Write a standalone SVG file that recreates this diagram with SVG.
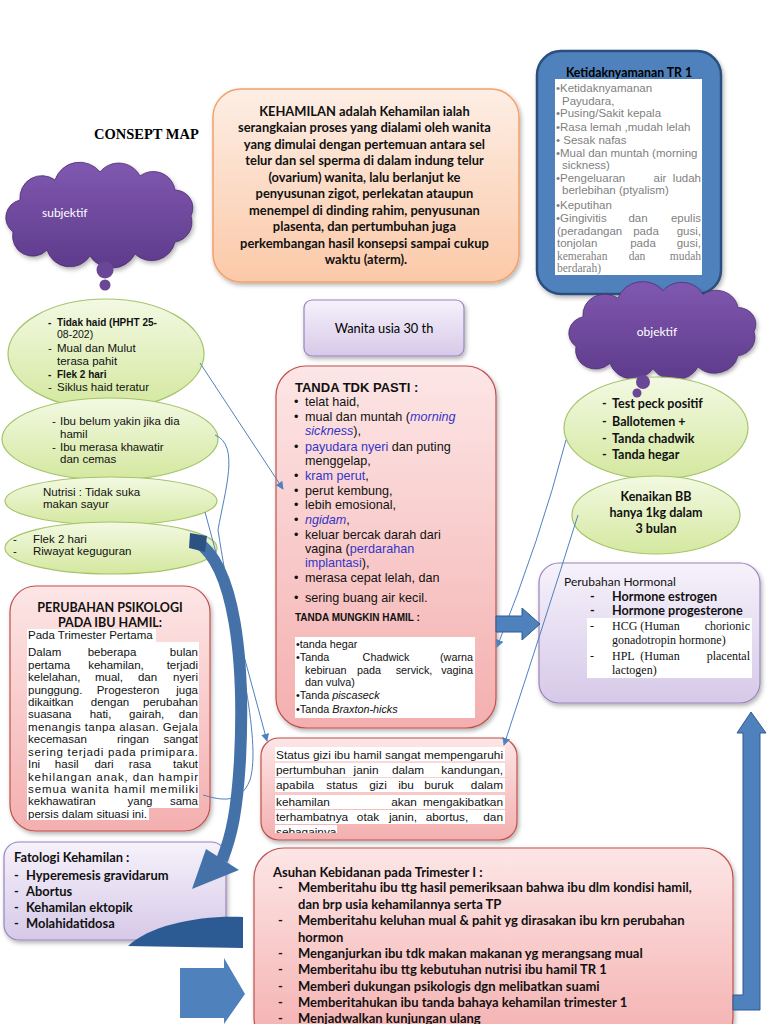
<svg xmlns="http://www.w3.org/2000/svg" width="768" height="1024" viewBox="0 0 768 1024">
<style>
.cal{font-family:Lato,"Open Sans",sans-serif;font-weight:bold}
.caln{font-family:Lato,"Open Sans",sans-serif}
.ar{font-family:"Liberation Sans",Arial,sans-serif}
.ser{font-family:"Liberation Serif","Times New Roman",serif}
.gr{fill:#7f7f7f}
.bl{fill:#3535c8}
.it{font-style:italic}
.con{fill:none;stroke:#4f81bd;stroke-width:1}
.barrow{fill:#4f81bd;stroke:#2f5a8f;stroke-width:1}
</style>
<defs>
<linearGradient id="gG" x1="0" y1="0" x2="0" y2="1"><stop offset="0" stop-color="#f3f9e3"/><stop offset="1" stop-color="#d4e89f"/></linearGradient>
<linearGradient id="gP" x1="0" y1="0" x2="0" y2="1"><stop offset="0" stop-color="#fde6e6"/><stop offset="1" stop-color="#f4afaf"/></linearGradient>
<linearGradient id="gO" x1="0" y1="0" x2="0" y2="1"><stop offset="0" stop-color="#fdeee5"/><stop offset="1" stop-color="#fbc9a8"/></linearGradient>
<linearGradient id="gL" x1="0" y1="0" x2="0" y2="1"><stop offset="0" stop-color="#f6f2fb"/><stop offset="1" stop-color="#d6c9e8"/></linearGradient>
<linearGradient id="gC" x1="0" y1="0" x2="0" y2="1"><stop offset="0" stop-color="#8058b0"/><stop offset="1" stop-color="#5e3b8b"/></linearGradient>
<filter id="sh" x="-10%" y="-10%" width="130%" height="130%"><feDropShadow dx="1.5" dy="2.5" stdDeviation="2" flood-color="#000" flood-opacity="0.3"/></filter>
<marker id="ah" viewBox="0 0 10 10" refX="9" refY="5" markerWidth="8" markerHeight="8" markerUnits="userSpaceOnUse" orient="auto"><path d="M0,0 L10,5 L0,10 z" fill="#4f81bd"/></marker>
<path id="cloud" d="M 15 32 A 22 22 0 0 1 50 12 A 26 26 0 0 1 95 4 A 24 24 0 0 1 135 8 A 22 22 0 0 1 170 22 A 18 18 0 0 1 186 48 A 20 20 0 0 1 170 74 A 24 24 0 0 1 130 86 A 26 26 0 0 1 85 88 A 24 24 0 0 1 42 82 A 20 20 0 0 1 8 64 A 18 18 0 0 1 15 32 Z"/>
<clipPath id="cGizi"><rect x="262" y="740" width="255" height="93"/></clipPath>
</defs>
<rect width="768" height="1024" fill="#ffffff"/>

<text class="ser" x="94" y="139" font-size="14.5" font-weight="bold" fill="#000">CONSEPT MAP</text>

<g id="subjektif">
<use href="#cloud" transform="translate(5,168)" fill="url(#gC)" stroke="#4b2d70" stroke-width="0.8" filter="url(#sh)"/>
<text class="caln" x="42" y="217" font-size="12" fill="#ffffff">subjektif</text>
<circle cx="105" cy="270" r="8.5" fill="#6a4696"/>
<circle cx="105" cy="285" r="5.5" fill="#6a4696"/>
</g>

<g id="kehamilan">
<rect x="213" y="89" width="306" height="193" rx="28" fill="url(#gO)" stroke="#f4a06a" stroke-width="1.5" filter="url(#sh)"/>
<text class="cal" font-size="12.9" text-anchor="middle" fill="#111">
<tspan x="366" y="116">KEHAMILAN adalah Kehamilan ialah</tspan>
<tspan x="366" y="132.4">serangkaian proses yang dialami oleh wanita</tspan>
<tspan x="366" y="148.9">yang dimulai dengan pertemuan antara sel</tspan>
<tspan x="366" y="165.3">telur dan sel sperma di dalam indung telur</tspan>
<tspan x="366" y="181.8">(ovarium) wanita, lalu berlanjut ke</tspan>
<tspan x="366" y="198.2">penyusunan zigot, perlekatan ataupun</tspan>
<tspan x="366" y="214.6">menempel di dinding rahim, penyusunan</tspan>
<tspan x="366" y="231.1">plasenta, dan pertumbuhan juga</tspan>
<tspan x="366" y="247.5">perkembangan hasil konsepsi sampai cukup</tspan>
<tspan x="366" y="264">waktu (aterm).</tspan>
</text>
</g>

<g id="ketidaknyamanan">
<rect x="537" y="51" width="184" height="243" rx="24" fill="#4f81bd" stroke="#2c4f7c" stroke-width="2.5" filter="url(#sh)"/>
<text class="cal" x="629" y="77" font-size="12.3" text-anchor="middle" fill="#000">Ketidaknyamanan TR 1</text>
<rect x="555" y="79" width="147" height="196" fill="#ffffff"/>
<g class="ar gr" font-size="11.5">
<text x="556" y="92">•Ketidaknyamanan</text>
<text x="562" y="105">Payudara,</text>
<text x="556" y="117">•Pusing/Sakit kepala</text>
<text x="556" y="131">•Rasa lemah ,mudah lelah</text>
<text x="556" y="144">•  Sesak nafas</text>
<text x="556" y="157">•Mual dan muntah (morning</text>
<text x="562" y="169">sickness)</text>
<text x="556" y="182">•Pengeluaran</text><text x="660" y="182" text-anchor="middle">air</text><text x="701" y="182" text-anchor="end">ludah</text>
<text x="562" y="194">berlebihan (ptyalism)</text>
<text x="556" y="209">•Keputihan</text>
<text x="556" y="222">•Gingivitis</text><text x="638" y="222" text-anchor="middle">dan</text><text x="701" y="222" text-anchor="end">epulis</text>
<text x="557" y="235">(peradangan</text><text x="646" y="235" text-anchor="middle">pada</text><text x="701" y="235" text-anchor="end">gusi,</text>
<text x="557" y="247">tonjolan</text><text x="643" y="247" text-anchor="middle">pada</text><text x="701" y="247" text-anchor="end">gusi,</text>
</g>
<g class="ser gr" font-size="11.5">
<text x="557" y="260">kemerahan</text><text x="637" y="260" text-anchor="middle">dan</text><text x="701" y="260" text-anchor="end">mudah</text>
<text x="557" y="272">berdarah)</text>
</g>
</g>

<g id="wanita">
<rect x="304" y="300" width="160" height="56" rx="8" fill="url(#gL)" stroke="#9a84bd" stroke-width="1.2" filter="url(#sh)"/>
<text class="caln" x="384" y="333" font-size="12.8" text-anchor="middle" fill="#000">Wanita usia 30 th</text>
</g>

<g id="ell1">
<ellipse cx="106" cy="354" rx="98" ry="55" fill="url(#gG)" stroke="#a5c46a" stroke-width="1.2"/>
<g class="ar" font-size="11.5" fill="#111">
<text x="48" y="325.5" font-size="10" font-weight="bold">-</text><text x="57" y="325.5" font-size="10" font-weight="bold">Tidak haid  (HPHT 25-</text>
<text x="57" y="338" font-size="10.5">08-202)</text>
<text x="48" y="352">-</text><text x="57" y="352">Mual dan Mulut</text>
<text x="57" y="365">terasa pahit</text>
<text x="48" y="378" font-size="10" font-weight="bold">-</text><text x="57" y="378" font-size="10" font-weight="bold">Flek 2 hari</text>
<text x="48" y="391">-</text><text x="57" y="391">Siklus haid teratur</text>
</g>
</g>

<g id="ell2">
<ellipse cx="110" cy="439" rx="108" ry="41" fill="url(#gG)" stroke="#a5c46a" stroke-width="1.2"/>
<g class="ar" font-size="11.5" fill="#111">
<text x="52" y="425">-</text><text x="60" y="425">Ibu belum yakin jika dia</text>
<text x="60" y="438">hamil</text>
<text x="52" y="451">-</text><text x="60" y="451">Ibu merasa khawatir</text>
<text x="60" y="463">dan cemas</text>
</g>
</g>

<g id="ell3">
<ellipse cx="111" cy="501" rx="106" ry="24" fill="url(#gG)" stroke="#a5c46a" stroke-width="1.2"/>
<g class="ar" font-size="11.5" fill="#111">
<text x="43" y="496">Nutrisi : Tidak suka</text>
<text x="43" y="508">makan sayur</text>
</g>
</g>

<g id="ell4">
<ellipse cx="111" cy="548" rx="106" ry="26" fill="url(#gG)" stroke="#a5c46a" stroke-width="1.2"/>
<g class="ar" font-size="11.5" fill="#111">
<text x="13" y="543">-</text><text x="33" y="543">Flek 2 hari</text>
<text x="13" y="555">-</text><text x="33" y="555">Riwayat keguguran</text>
</g>
</g>

<g id="objektif">
<use href="#cloud" transform="translate(568,287) scale(1,0.93)" fill="url(#gC)" stroke="#4b2d70" stroke-width="0.8" filter="url(#sh)"/>
<text class="caln" x="657" y="336" font-size="12" text-anchor="middle" fill="#ffffff">objektif</text>
</g>

<g id="ell5">
<ellipse cx="656" cy="428" rx="92" ry="51" fill="url(#gG)" stroke="#a5c46a" stroke-width="1.2"/>
<g class="cal" font-size="12.5" fill="#111">
<text x="602" y="408">-</text><text x="612" y="408">Test peck positif</text>
<text x="602" y="426">-</text><text x="612" y="426">Ballotemen +</text>
<text x="602" y="443">-</text><text x="612" y="443">Tanda chadwik</text>
<text x="602" y="459">-</text><text x="612" y="459">Tanda hegar</text>
</g>
</g>
<g id="bubbles-objektif">
<circle cx="643" cy="382" r="7" fill="#6a4696"/>
<circle cx="637" cy="393" r="4.5" fill="#6a4696"/>
</g>

<g id="ell6">
<ellipse cx="656" cy="515" rx="84" ry="39" fill="url(#gG)" stroke="#a5c46a" stroke-width="1.2"/>
<g class="cal" font-size="12.5" fill="#111" text-anchor="middle">
<text x="656" y="501">Kenaikan BB</text>
<text x="656" y="517">hanya 1kg dalam</text>
<text x="656" y="533">3 bulan</text>
</g>
</g>

<g id="tanda">
<rect x="276" y="366" width="220" height="362" rx="30" fill="url(#gP)" stroke="#c0504d" stroke-width="1.2" filter="url(#sh)"/>
<text class="ar" x="295" y="392" font-size="13" font-weight="bold" fill="#111">TANDA TDK PASTI :</text>
<g class="ar" font-size="12.6" fill="#111">
<text x="294" y="406">•</text><text x="305" y="406">telat haid,</text>
<text x="294" y="421">•</text><text x="305" y="421">mual dan muntah (<tspan class="bl it">morning</tspan></text>
<text x="305" y="435"><tspan class="bl it">sickness</tspan>),</text>
<text x="294" y="451">•</text><text x="305" y="451"><tspan class="bl">payudara nyeri</tspan> dan puting</text>
<text x="305" y="465">menggelap,</text>
<text x="294" y="480">•</text><text x="305" y="480"><tspan class="bl">kram perut</tspan>,</text>
<text x="294" y="495">•</text><text x="305" y="495">perut kembung,</text>
<text x="294" y="509">•</text><text x="305" y="509">lebih emosional,</text>
<text x="294" y="524">•</text><text x="305" y="524"><tspan class="bl it">ngidam</tspan>,</text>
<text x="294" y="539">•</text><text x="305" y="539">keluar bercak darah dari</text>
<text x="305" y="553">vagina (<tspan class="bl">perdarahan</tspan></text>
<text x="305" y="567"><tspan class="bl">implantasi</tspan>),</text>
<text x="294" y="582">•</text><text x="305" y="582">merasa cepat lelah, dan</text>
<text x="294" y="602">•</text><text x="305" y="602">sering buang air kecil.</text>
</g>
<text class="ar" x="295" y="621" font-size="10" font-weight="bold" fill="#111">TANDA MUNGKIN HAMIL :</text>
<rect x="295" y="637" width="180" height="81" fill="#ffffff"/>
<g class="ar" font-size="10.8" fill="#111">
<text x="296" y="648">•tanda hegar</text>
<text x="296" y="661">•Tanda</text><text x="386" y="661" text-anchor="middle">Chadwick</text><text x="473" y="661" text-anchor="end">(warna</text>
<text x="305" y="674">kebiruan</text><text x="369" y="674" text-anchor="middle">pada</text><text x="414" y="674" text-anchor="middle">servick,</text><text x="473" y="674" text-anchor="end">vagina</text>
<text x="305" y="686">dan vulva)</text>
<text x="296" y="699">•Tanda <tspan class="it">piscaseck</tspan></text>
<text x="296" y="713">•Tanda <tspan class="it">Braxton-hicks</tspan></text>
</g>
</g>

<g id="hormonal">
<rect x="539" y="563" width="221" height="140" rx="20" fill="url(#gL)" stroke="#9a84bd" stroke-width="1.2" filter="url(#sh)"/>
<text class="caln" x="564" y="586" font-size="12" fill="#111">Perubahan Hormonal</text>
<g class="cal" font-size="12.6" fill="#111">
<text x="590" y="601">-</text><text x="612" y="601">Hormone estrogen</text>
<text x="590" y="615">-</text><text x="612" y="615">Hormone progesterone</text>
</g>
<rect x="587" y="618" width="165" height="60" fill="#ffffff"/>
<g class="ser" font-size="12" fill="#111">
<text x="590" y="630">-</text><text x="612" y="630">HCG</text><text x="660" y="630" text-anchor="middle">(Human</text><text x="750" y="630" text-anchor="end">chorionic</text>
<text x="612" y="644">gonadotropin hormone)</text>
<text x="590" y="660">-</text><text x="612" y="660">HPL</text><text x="660" y="660" text-anchor="middle">(Human</text><text x="750" y="660" text-anchor="end">placental</text>
<text x="612" y="674">lactogen)</text>
</g>
</g>

<g id="psikologi">
<rect x="10" y="586" width="200" height="245" rx="26" fill="url(#gP)" stroke="#c0504d" stroke-width="1.2" filter="url(#sh)"/>
<g class="cal" font-size="12.5" fill="#111" text-anchor="middle">
<text x="110" y="611.5">PERUBAHAN PSIKOLOGI</text>
<text x="110" y="626.5">PADA IBU HAMIL:</text>
</g>
<rect x="27" y="629" width="129" height="13" fill="#ffffff"/>
<rect x="27" y="642" width="172" height="166" fill="#ffffff"/>
<rect x="27" y="808" width="122" height="12" fill="#ffffff"/>
<g class="ar" font-size="11.5" fill="#111">
<text x="28" y="639">Pada Trimester Pertama</text>
<text x="28" y="656">Dalam</text><text x="112" y="656" text-anchor="middle">beberapa</text><text x="198" y="656" text-anchor="end">bulan</text>
<text x="28" y="668.5">pertama</text><text x="116" y="668.5" text-anchor="middle">kehamilan,</text><text x="198" y="668.5" text-anchor="end">terjadi</text>
<text x="28" y="681">kelelahan,</text><text x="109" y="681" text-anchor="middle">mual,</text><text x="147.5" y="681" text-anchor="middle">dan</text><text x="198" y="681" text-anchor="end">nyeri</text>
<text x="28" y="693.5">punggung.</text><text x="128" y="693.5" text-anchor="middle">Progesteron</text><text x="198" y="693.5" text-anchor="end">juga</text>
<text x="28" y="706">dikaitkan</text><text x="110" y="706" text-anchor="middle">dengan</text><text x="198" y="706" text-anchor="end">perubahan</text>
<text x="28" y="718">suasana</text><text x="100.5" y="718" text-anchor="middle">hati,</text><text x="146.7" y="718" text-anchor="middle">gairah,</text><text x="198" y="718" text-anchor="end">dan</text>
<text x="28" y="730.5" textLength="170" lengthAdjust="spacing">menangis tanpa alasan. Gejala</text>
<text x="28" y="743">kecemasan</text><text x="133" y="743" text-anchor="middle">ringan</text><text x="198" y="743" text-anchor="end">sangat</text>
<text x="28" y="755.5" textLength="170" lengthAdjust="spacing">sering terjadi pada primipara.</text>
<text x="28" y="768">Ini</text><text x="66.7" y="768" text-anchor="middle">hasil</text><text x="104" y="768" text-anchor="middle">dari</text><text x="140" y="768" text-anchor="middle">rasa</text><text x="198" y="768" text-anchor="end">takut</text>
<text x="28" y="780.5" textLength="170" lengthAdjust="spacing">kehilangan anak, dan hampir</text>
<text x="28" y="793" textLength="170" lengthAdjust="spacing">semua wanita hamil  memiliki</text>
<text x="28" y="805">kekhawatiran</text><text x="140" y="805" text-anchor="middle">yang</text><text x="198" y="805" text-anchor="end">sama</text>
<text x="28" y="817.5">persis dalam situasi ini.</text>
</g>
</g>

<g id="gizi">
<rect x="261" y="738" width="256" height="102" rx="18" fill="url(#gP)" stroke="#c0504d" stroke-width="1.2" filter="url(#sh)"/>
<g clip-path="url(#cGizi)">
<rect x="275" y="747" width="230" height="14" fill="#ffffff"/>
<rect x="275" y="763" width="230" height="14" fill="#ffffff"/>
<rect x="275" y="778" width="230" height="14" fill="#ffffff"/>
<rect x="275" y="795" width="230" height="14" fill="#ffffff"/>
<rect x="275" y="810" width="230" height="14" fill="#ffffff"/>
<rect x="275" y="825" width="62" height="14" fill="#ffffff"/>
<g class="ar" font-size="11.8" fill="#111">
<text x="276" y="758.5" textLength="227" lengthAdjust="spacing">Status gizi ibu hamil sangat mempengaruhi</text>
<text x="276" y="773.5">pertumbuhan</text><text x="366" y="773.5" text-anchor="middle">janin</text><text x="408" y="773.5" text-anchor="middle">dalam</text><text x="503" y="773.5" text-anchor="end">kandungan,</text>
<text x="276" y="789">apabila</text><text x="342" y="789" text-anchor="middle">status</text><text x="378" y="789" text-anchor="middle">gizi</text><text x="406" y="789" text-anchor="middle">ibu</text><text x="439" y="789" text-anchor="middle">buruk</text><text x="503" y="789" text-anchor="end">dalam</text>
<text x="276" y="806">kehamilan</text><text x="404" y="806" text-anchor="middle">akan</text><text x="503" y="806" text-anchor="end">mengakibatkan</text>
<text x="276" y="821">terhambatnya</text><text x="368" y="821" text-anchor="middle">otak</text><text x="403" y="821" text-anchor="middle">janin,</text><text x="447" y="821" text-anchor="middle">abortus,</text><text x="503" y="821" text-anchor="end">dan</text>
<text x="276" y="836">sebagainya.</text>
</g>
</g>
</g>

<g id="fatologi">
<rect x="4" y="842" width="222" height="98" rx="15" fill="url(#gL)" stroke="#9a84bd" stroke-width="1.2" filter="url(#sh)"/>
<g class="cal" font-size="12.9" fill="#111">
<text x="14" y="862">Fatologi Kehamilan :</text>
<text x="14" y="880">-</text><text x="26" y="880">Hyperemesis gravidarum</text>
<text x="14" y="896">-</text><text x="26" y="896">Abortus</text>
<text x="14" y="912">-</text><text x="26" y="912">Kehamilan ektopik</text>
<text x="14" y="928">-</text><text x="26" y="928">Molahidatidosa</text>
</g>
</g>

<g id="asuhan">
<rect x="254" y="848" width="479" height="200" rx="30" fill="url(#gP)" stroke="#c0504d" stroke-width="1.2" filter="url(#sh)"/>
<g class="cal" font-size="13" fill="#111">
<text x="273" y="877">Asuhan Kebidanan pada Trimester I :</text>
<text x="278" y="892">-</text><text x="298" y="892">Memberitahu ibu ttg hasil pemeriksaan bahwa ibu dlm kondisi hamil,</text>
<text x="298" y="909">dan brp usia kehamilannya serta TP</text>
<text x="278" y="925">-</text><text x="298" y="925">Memberitahu keluhan mual &amp; pahit yg dirasakan ibu krn perubahan</text>
<text x="298" y="942">hormon</text>
<text x="278" y="958">-</text><text x="298" y="958">Menganjurkan ibu tdk makan makanan yg merangsang mual</text>
<text x="278" y="974">-</text><text x="298" y="974">Memberitahu ibu ttg kebutuhan nutrisi ibu hamil TR 1</text>
<text x="278" y="991">-</text><text x="298" y="991">Memberi dukungan psikologis dgn melibatkan suami</text>
<text x="278" y="1007">-</text><text x="298" y="1007">Memberitahukan ibu tanda bahaya kehamilan trimester 1</text>
<text x="278" y="1023">-</text><text x="298" y="1023">Menjadwalkan kunjungan ulang</text>
</g>
</g>

<g id="connectors">
<path class="con" d="M 200 363 L 283 489" marker-end="url(#ah)"/>
<path class="con" d="M 205 512 L 267 741" marker-end="url(#ah)"/>
<path class="con" d="M 215 435 C 240 445 225 490 218 530 C 235 640 262 740 250 780 C 240 805 220 800 203 795"/>
<path class="con" d="M 566 440 Q 540 540 497 647" marker-end="url(#ah)"/>
<path class="con" d="M 578 515 Q 545 620 504 745" marker-end="url(#ah)"/>
<path d="M 196 541 C 235 565 245 660 240 760 C 237 810 232 835 222 860" fill="none" stroke="#4472a8" stroke-width="12"/>
<polygon points="206,849 239,870 192,889" fill="#4472a8"/>
<polygon points="190,533 207,536 205,552 189,548" fill="#2c5282"/>
<polygon class="barrow" points="496,616 522,616 522,608 540,624 522,640 522,632 496,632"/>
<polygon class="barrow" points="733,995 743,995 743,733 737,733 751,712 766,733 760,733 760,1010 733,1010"/>
<path d="M 243 917 C 200 915 150 925 128 946 L 243 948 Z" fill="#2c5a92"/>
<polygon points="180,968 224,968 224,958 245,994 224,1024 224,1018 180,1018" fill="#4f81bd"/>
</g>
</svg>
